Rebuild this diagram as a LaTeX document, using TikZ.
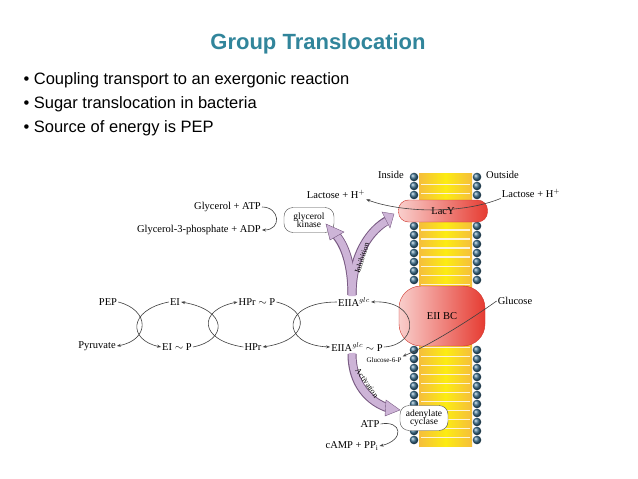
\documentclass[tikz,border=0pt]{standalone}
\usepackage{fontspec}
\setmainfont{Liberation Serif}
\newfontfamily\sans{Liberation Sans}
\usetikzlibrary{arrows.meta,shapes.misc}
\definecolor{teal1}{RGB}{49,133,155}
\definecolor{lav}{RGB}{205,180,215}
\definecolor{lavd}{RGB}{120,90,130}
\definecolor{bead}{RGB}{60,110,140}
\definecolor{memb}{RGB}{245,190,60}
\definecolor{prot}{RGB}{230,60,50}
\tikzset{
  lbl/.style={font=\fontsize{10.5}{11}\selectfont, inner sep=1pt},
  enz/.style={draw=black!70, rounded corners=9pt, font=\fontsize{9.5}{10}\selectfont, align=center, inner sep=2pt, fill=white, minimum width=50pt, minimum height=25pt},
  rx/.style={draw=black!75, line width=0.6pt, -{Stealth[length=4pt]}},
  prt/.style={draw=prot!90!black, left color=prot!25, right color=prot, rounded corners=10pt, font=\fontsize{10.5}{11}\selectfont},
  bigarr/.style={line width=9pt, draw=lavd},
  bigin/.style={line width=7pt, draw=lav},
}
\begin{document}
\begin{tikzpicture}[x=1pt,y=-1pt]
\useasboundingbox[fill=white] (0,0) rectangle (638,479);
\node[font=\sans\bfseries\fontsize{22}{24}\selectfont, text=teal1] (title) at (318,44) {Group Translocation};
\node[font=\sans\fontsize{16.5}{18}\selectfont, anchor=west, align=left] (b1) at (20,80) {• Coupling transport to an exergonic reaction};
\node[font=\sans\fontsize{16.5}{18}\selectfont, anchor=west] (b2) at (20,104) {• Sugar translocation in bacteria};
\node[font=\sans\fontsize{16.5}{18}\selectfont, anchor=west] (b3) at (20,128) {• Source of energy is PEP};
% membrane
\fill[left color=memb, right color=memb, middle color=yellow!70!memb] (419,173) rectangle (472,446);
\foreach \y in {184,193,...,256} {\draw[white!80!memb, line width=0.6pt] (421,\y) -- (470,\y);}
\foreach \y in {228,237,...,440} {\draw[white!80!memb, line width=0.6pt] (421,\y+2) -- (470,\y+2);}
\foreach \y in {177,186,195,226,235,244,253,262,271,280,350,359,368,377,386,395,404,413,422,431,440} {
  \shade[ball color=bead] (414,\y) circle (4.3);
  \shade[ball color=bead] (477,\y) circle (4.3);
}
\node[prt, minimum width=89pt, minimum height=22pt] (lacy) at (443,211) {LacY};
\node[prt, minimum width=86pt, minimum height=60pt, rounded corners=22pt] (eii) at (442,316) {EII BC};
% labels
\node[lbl, anchor=east] (inside) at (405,175) {Inside};
\node[lbl, anchor=west] (outside) at (485,175) {Outside};
\node[lbl] (lacin) at (336,194) {Lactose + H$^+$};
\node[lbl] (lacout) at (531,193) {Lactose + H$^+$};
\node[lbl, anchor=east] (gly) at (262,207) {Glycerol + ATP};
\node[lbl, anchor=east] (g3p) at (262,230) {Glycerol-3-phosphate + ADP};
\node[enz] (gk) at (309,220) {glycerol\\[-2pt]kinase};
\node[lbl] (pep) at (108,302) {PEP};
\node[lbl] (ei) at (175,302) {EI};
\node[lbl] (hprp) at (257,302) {HPr $\sim$ P};
\node[lbl] (eiia) at (354,302) {EIIA$^{glc}$};
\node[lbl] (glc) at (515,301) {Glucose};
\node[lbl] (pyr) at (97,346) {Pyruvate};
\node[lbl] (eip) at (177,347) {EI $\sim$ P};
\node[lbl] (hpr) at (253,347) {HPr};
\node[lbl] (eiiap) at (357,347) {EIIA$^{glc}$ $\sim$ P};
\node[lbl, font=\fontsize{7}{8}\selectfont] (g6p) at (384,360) {Glucose-6-P};
\node[enz, minimum width=48pt] (ac) at (424,418) {adenylate\\[-2pt]cyclase};
\node[lbl] (atp) at (370,424) {ATP};
\node[lbl] (camp) at (352,446) {cAMP + PP$_\mathrm{i}$};
% lactose transport
\draw[rx] (lacout.south west) .. controls (460,215) and (400,212) .. (lacin.south east);
% glycerol kinase
\draw[rx] (gly.east) .. controls (280,207) and (282,230) .. (g3p.east);
% PTS arcs
\draw[rx] (pep.east) .. controls (150,310) and (150,340) .. (pyr.east);
\draw[rx] (ei.west) .. controls (128,310) and (128,340) .. (eip.west);
\draw[rx] (eip.east) .. controls (228,340) and (228,310) .. (ei.east);
\draw[rx] (hpr.west) .. controls (198,340) and (198,310) .. (hprp.west);
\draw[rx] (hprp.east) .. controls (310,310) and (310,340) .. (hpr.east);
\draw[rx] (eiia.west) .. controls (280,302) and (280,345) .. (eiiap.west);
\draw[rx] (eiiap.east) .. controls (420,345) and (420,300) .. (eiia.east);
\draw[rx] (glc.west) .. controls (470,320) and (430,345) .. (g6p.north east);
% adenylate cyclase
\draw[rx] (atp.east) .. controls (402,420) and (405,440) .. (camp.east);
% inhibition
\draw[bigarr] (352,295) .. controls (352,265) and (345,245) .. (335,234);
\draw[bigarr] (352,295) .. controls (352,255) and (370,230) .. (388,220);
\draw[bigin] (352,296) .. controls (352,265) and (345,245) .. (336,235);
\draw[bigin] (352,296) .. controls (352,255) and (370,230) .. (387,221);
\fill[lav, draw=lavd] (326,224) -- (344,232) -- (330,240) -- cycle;
\fill[lav, draw=lavd] (394,214) -- (382,212) -- (390,228) -- cycle;
\node[font=\fontsize{8}{9}\selectfont, rotate=72, inner sep=0pt] (inh) at (362,258) {Inhibition};
% activation
\draw[bigarr] (352,354) .. controls (352,385) and (370,402) .. (388,408);
\draw[bigin] (352,353) .. controls (352,385) and (370,402) .. (388,408);
\fill[lav, draw=lavd] (386,400) -- (400,410) -- (385,416) -- cycle;
\node[font=\fontsize{8}{9}\selectfont, rotate=-55, inner sep=0pt] (act) at (367,383) {Activation};
\end{tikzpicture}
\end{document}
